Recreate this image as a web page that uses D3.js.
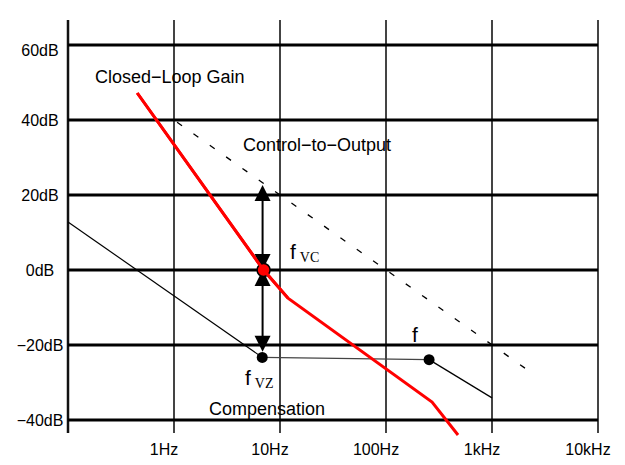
<!DOCTYPE html>
<html><head><meta charset="utf-8">
<script src="https://cdn.jsdelivr.net/npm/d3@7"></script>
<style>body{margin:0;background:#fff}svg{display:block}text{font-family:"Liberation Sans",Arial,sans-serif}</style>
</head><body><svg id="c" width="625" height="465"></svg>
<script>
// ---- data ----
const freqTicks = [0.1, 1, 10, 100, 1000, 10000];
const freqTickLabels = ["", "1Hz", "10Hz", "100Hz", "1kHz", "10kHz"];
const dbTicks = [60, 40, 20, 0, -20, -40];
const dbTickLabels = ["60dB", "40dB", "20dB", "0dB", "\u221220dB", "\u221240dB"];

const closedLoopFreq = [0.45, 7.0, 11.9, 272, 478];
const closedLoopDb   = [47.2, 0, -7.5, -35.2, -44];

const controlFreq = [1.07, 2150];
const controlDb   = [39.4, -26.6];

const compFreq = [0.1, 6.8, 255, 1000];
const compDb   = [12.8, -23.3, -23.9, -34.1];

const markerFreq = [6.8, 255];
const markerDb   = [-23.3, -23.9];

const arrowFreq = 6.85;
const arrowTopDb = 22.7;
const arrowBottomDb = -21.8;
const crossFreq = 7.0;

// ---- chart ----
const svg = d3.select("#c");
const x = d3.scaleLog().domain([0.1, 10000]).range([68, 598]);
const y = d3.scaleLinear().domain([60, -40]).range([45, 420]);
const yTop = 20, yBot = 433;

// vertical grid
svg.append("g").selectAll("line").data(freqTicks).join("line")
  .attr("x1", d => x(d)).attr("x2", d => x(d))
  .attr("y1", yTop).attr("y2", yBot)
  .attr("stroke", d => d === 0.1 ? "#111" : "#444").attr("stroke-width", d => d === 0.1 ? 2.5 : 2);

// horizontal grid
svg.append("g").selectAll("line").data(dbTicks).join("line")
  .attr("x1", x(0.1)).attr("x2", x(10000))
  .attr("y1", d => y(d)).attr("y2", d => y(d))
  .attr("stroke", "#000").attr("stroke-width", 3);

// y labels
svg.append("g").selectAll("text").data(dbTicks).join("text")
  .attr("x", 40).attr("y", (d) => y(d) + (d === 60 ? 5 : 0))
  .attr("text-anchor", "middle").attr("dominant-baseline", "central")
  .attr("font-size", 16).attr("fill", "#000")
  .text((d, i) => dbTickLabels[i]);

// x labels
svg.append("g").selectAll("text").data(freqTicks).join("text")
  .attr("x", d => x(d) - 10).attr("y", 455)
  .attr("text-anchor", "middle")
  .attr("font-size", 16).attr("fill", "#000")
  .text((d, i) => freqTickLabels[i]);

const line = d3.line().x(d => x(d[0])).y(d => y(d[1]));

// control-to-output dashed
svg.append("path").datum(d3.zip(controlFreq, controlDb))
  .attr("d", line).attr("fill", "none").attr("stroke", "#000")
  .attr("stroke-width", 1.3).attr("stroke-dasharray", "6,14");

// compensation
const comp = d3.zip(compFreq, compDb);
svg.append("path").datum(comp.slice(0, 2)).attr("d", line)
  .attr("fill", "none").attr("stroke", "#000").attr("stroke-width", 1.2);
svg.append("path").datum(comp.slice(1, 3)).attr("d", line)
  .attr("fill", "none").attr("stroke", "#444").attr("stroke-width", 1.5);
svg.append("path").datum(comp.slice(2)).attr("d", line)
  .attr("fill", "none").attr("stroke", "#000").attr("stroke-width", 1.2);

// closed-loop red
svg.append("path").datum(d3.zip(closedLoopFreq, closedLoopDb))
  .attr("d", line).attr("fill", "none").attr("stroke", "#ff0000")
  .attr("stroke-width", 3);

// arrows
const ax = x(arrowFreq);
svg.append("line").attr("x1", ax).attr("x2", ax)
  .attr("y1", y(arrowTopDb) + 5).attr("y2", y(arrowBottomDb) - 5)
  .attr("stroke", "#000").attr("stroke-width", 2);
function head(tipY, dir) { // dir -1 = pointing up, +1 = pointing down
  const L = 16, W = 8;
  svg.append("path")
    .attr("d", `M${ax},${tipY} L${ax - W},${tipY - dir * L} L${ax + W},${tipY - dir * L} Z`)
    .attr("fill", "#000");
}
head(y(arrowTopDb), -1);
head(y(0), 1);
head(y(0), -1);
head(y(arrowBottomDb), 1);

// crossover circle
svg.append("circle").attr("cx", x(crossFreq)).attr("cy", y(0)).attr("r", 6.5)
  .attr("fill", "#ff0000").attr("stroke", "#000").attr("stroke-width", 1.5);
svg.append("path").datum(d3.zip(closedLoopFreq, closedLoopDb).slice(0, 3))
  .attr("d", line).attr("fill", "none").attr("stroke", "#ff0000").attr("stroke-width", 3)
  .attr("clip-path", null);

// markers
svg.append("g").selectAll("circle").data(d3.zip(markerFreq, markerDb)).join("circle")
  .attr("cx", d => x(d[0])).attr("cy", d => y(d[1])).attr("r", 5.5).attr("fill", "#000");

// annotations
const ann = svg.append("g").attr("fill", "#000");
ann.append("text").attr("x", 95).attr("y", 83).attr("font-size", 18).text("Closed\u2212Loop Gain");
ann.append("text").attr("x", 243).attr("y", 151).attr("font-size", 18).text("Control\u2212to\u2212Output");
ann.append("text").attr("x", 209).attr("y", 415).attr("font-size", 18).text("Compensation");

function fLabel(px, py, sub) {
  const t = ann.append("text").attr("x", px).attr("y", py);
  t.append("tspan").attr("font-size", 21).text("f");
  if (sub) t.append("tspan").attr("dx", 4).attr("dy", 3)
    .attr("font-family", "'Liberation Serif','Times New Roman',serif")
    .attr("font-size", 14).text(sub);
}
fLabel(290, 259, "VC");
fLabel(245, 385, "VZ");
fLabel(412, 342, "");
</script></body></html>
